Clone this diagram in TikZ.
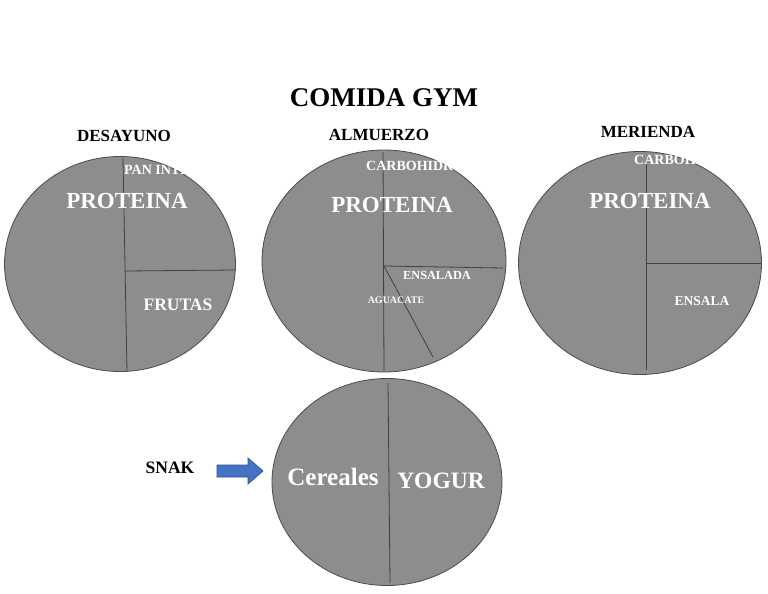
\documentclass[tikz,border=0pt]{standalone}
\usepackage{fontspec}
\setmainfont{Liberation Serif}
\usetikzlibrary{shapes.geometric}
\definecolor{pie}{RGB}{141,141,141}
\definecolor{pieedge}{RGB}{75,75,75}
\definecolor{arrblue}{RGB}{68,114,196}
\definecolor{arredge}{RGB}{47,82,143}
\tikzset{
  plate/.style={ellipse,draw=pieedge,fill=pie,line width=0.8pt,inner sep=0pt},
  cut/.style={draw=black!75,line width=0.8pt},
  head/.style={font=\bfseries\fontsize{17}{20}\selectfont,text=black,inner sep=0pt},
  wlab/.style={text=white,font=\bfseries,inner sep=0pt}
}
\begin{document}
\begin{tikzpicture}[x=1pt,y=-1pt]
\useasboundingbox (0,0) rectangle (768,594);
\fill[white] (0,0) rectangle (768,594);
\node[inner sep=0pt,font=\bfseries\fontsize{27}{31}\selectfont] (title) at (384,98) {COMIDA GYM};
% headings
\node[head] (hd1) at (124,136) {DESAYUNO};
\node[head] (hd2) at (379,135) {ALMUERZO};
\node[head] (hd3) at (648,132) {MERIENDA};
% plate 1
\node[plate,minimum width=231pt,minimum height=215pt] (p1) at (120,264) {};
\coordinate (p1t) at (123,158);
\coordinate (p1b) at (127,372);
\coordinate (p1m) at (125,271);
\coordinate (p1r) at (235,270);
\draw[cut] (p1t) -- (p1b);
\draw[cut] (p1m) -- (p1r);
\begin{scope}
\clip (120,155) rectangle (187,185);
\node[wlab,font=\bfseries\fontsize{14}{16}\selectfont,anchor=west] (pan) at (124,170) {PAN INTEGRAL};
\end{scope}
\node[wlab,font=\bfseries\fontsize{23}{27}\selectfont] (pr1) at (127,201) {PROTEINA};
\node[wlab,font=\bfseries\fontsize{17.5}{20}\selectfont] (fru) at (178,305) {FRUTAS};
% plate 2
\node[plate,minimum width=244pt,minimum height=222pt] (p2) at (384,261) {};
\coordinate (p2t) at (383,152);
\coordinate (p2b) at (384,371);
\coordinate (p2c) at (384,266);
\coordinate (p2r) at (503,268);
\coordinate (p2d) at (433,357);
\draw[cut] (p2t) -- (p2b);
\draw[cut] (p2c) -- (p2r);
\draw[cut] (p2c) -- (p2d);
\begin{scope}
\clip (360,150) rectangle (452,180);
\node[wlab,font=\bfseries\fontsize{14}{16}\selectfont,anchor=west] (car2) at (366,166) {CARBOHIDRATOS};
\end{scope}
\node[wlab,font=\bfseries\fontsize{23}{27}\selectfont] (pr2) at (392,205) {PROTEINA};
\node[wlab,font=\bfseries\fontsize{12.3}{14}\selectfont] (ens2) at (437,275) {ENSALADA};
\node[wlab,font=\bfseries\fontsize{10}{12}\selectfont] (agu) at (396,300) {AGUACATE};
% plate 3
\node[plate,minimum width=243pt,minimum height=223pt] (p3) at (640,263) {};
\coordinate (p3t) at (646,164);
\coordinate (p3b) at (646,370);
\coordinate (p3m) at (646,263);
\coordinate (p3r) at (761,263);
\draw[cut] (p3t) -- (p3b);
\draw[cut] (p3m) -- (p3r);
\begin{scope}
\clip (630,148) rectangle (701,175);
\node[wlab,font=\bfseries\fontsize{14}{16}\selectfont,anchor=west] (car3) at (634,160) {CARBOHIDRATOS};
\end{scope}
\node[wlab,font=\bfseries\fontsize{23}{27}\selectfont] (pr3) at (650,201) {PROTEINA};
\node[wlab,font=\bfseries\fontsize{13.5}{16}\selectfont] (ens3) at (702,301) {ENSALA};
% plate 4
\node[plate,minimum width=230pt,minimum height=207pt] (p4) at (387,482) {};
\coordinate (p4t) at (388,383);
\coordinate (p4b) at (390,583);
\draw[cut] (p4t) -- (p4b);
\node[wlab,font=\bfseries\fontsize{25}{29}\selectfont] (cer) at (333,477) {Cereales};
\node[wlab,font=\bfseries\fontsize{23.5}{27}\selectfont] (yog) at (441,481) {YOGUR};
% snack
\node[head,font=\bfseries\fontsize{17.5}{20}\selectfont] (snak) at (170,468) {SNAK};
\coordinate (arr) at (217,471);
\filldraw[draw=arredge,fill=arrblue,line width=0.7pt]
  (217,465) -- (248,465) -- (248,458) -- (263,471) -- (248,484) -- (248,477) -- (217,477) -- cycle;
\end{tikzpicture}
\end{document}
